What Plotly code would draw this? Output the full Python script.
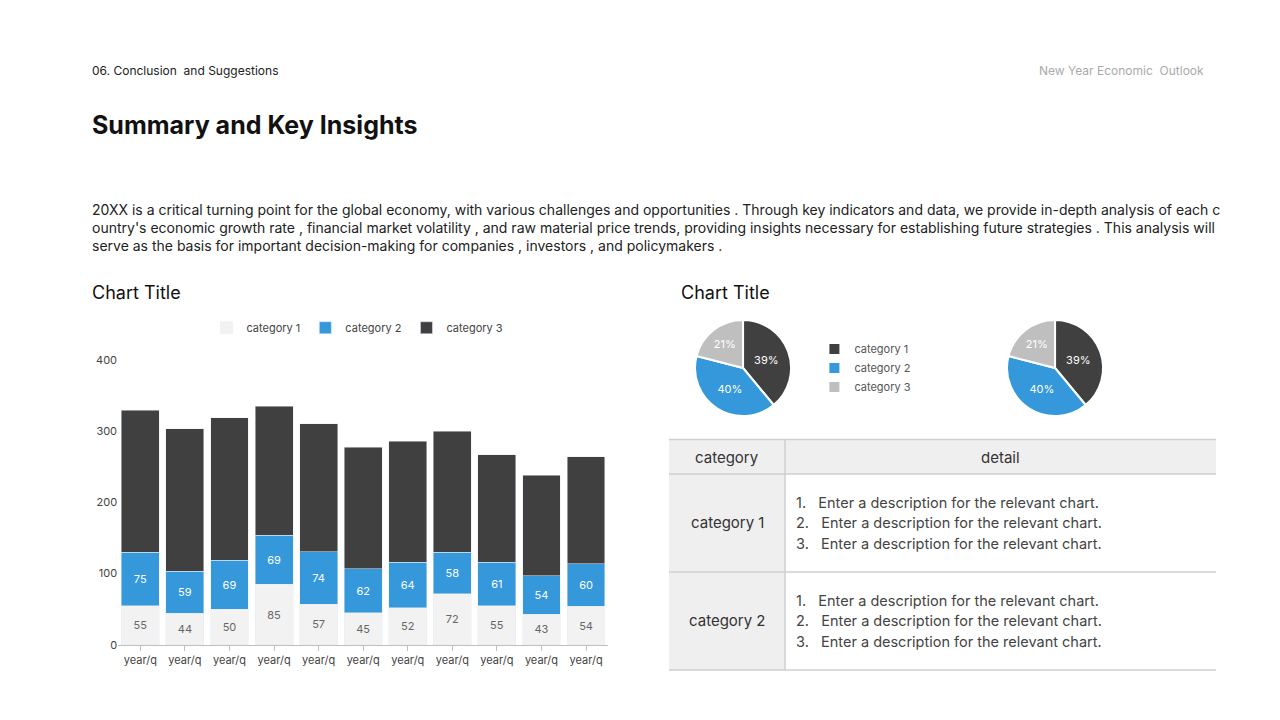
import plotly.graph_objects as go

quarters = ["year/q"] * 11
cat1 = [55, 44, 50, 85, 57, 45, 52, 72, 55, 43, 54]
cat2 = [75, 59, 69, 69, 74, 62, 64, 58, 61, 54, 60]
cat3 = [200, 201, 200, 181, 180, 171, 170, 170, 151, 141, 150]
pie_labels = ["category 1", "category 2", "category 3"]
pie_values = [39, 40, 21]
table_rows = ["category 1", "category 2"]
detail_lines = ["Enter a description for the relevant chart."] * 3

FONT = "Inter, Noto Sans, sans-serif"
C1, C2, C3 = "#f2f2f2", "#3498db", "#404040"
xs = list(range(len(cat1)))

fig = go.Figure()
for name, vals, color, txt in [("category 1", cat1, C1, dict(color="#666", size=11)),
                               ("category 2", cat2, C2, dict(color="white", size=11, family="Inter Bold, " + FONT)),
                               ("category 3", cat3, C3, None)]:
    fig.add_trace(go.Bar(
        x=xs, y=vals, name=name, marker_color=color, legend="legend",
        text=vals if txt else None, textposition="inside" if txt else "none",
        insidetextanchor="middle", textfont=txt, textangle=0,
    ))

for i, dom in enumerate([[0.536, 0.6125], [0.78, 0.856]]):
    fig.add_trace(go.Pie(
        labels=pie_labels, values=pie_values, sort=False, direction="clockwise",
        rotation=0, marker=dict(colors=[C3, C2, "#bfbfbf"], line=dict(color="white", width=2)),
        textinfo="percent", texttemplate="%{percent:.0%}",
        textfont=dict(color="white", size=11, family=FONT),
        domain=dict(x=dom, y=[0.432, 0.568]), legend="legend%d" % (i + 2),
    ))

fig.update_layout(
    width=1280, height=720, margin=dict(l=0, r=0, t=0, b=0),
    paper_bgcolor="white", plot_bgcolor="white", barmode="stack", bargap=0.15,
    font=dict(family=FONT, color="#333"),
    xaxis=dict(domain=[0.086, 0.469], tickmode="array", tickvals=xs, ticktext=quarters,
               showline=True, linecolor="#bfbfbf", ticks="outside", tickcolor="#bfbfbf",
               tickfont=dict(size=11, color="#444"), range=[-0.5, 10.5]),
    yaxis=dict(domain=[0.108, 0.511], range=[0, 400], dtick=100, showgrid=False,
               tickfont=dict(size=11, color="#444"), zeroline=False),
    legend=dict(orientation="h", x=0.273, xanchor="center", y=0.557, yanchor="middle",
                font=dict(size=11, color="#444"), itemwidth=30, traceorder="normal"),
    legend2=dict(x=0.63, y=0.5, yanchor="middle", font=dict(size=11, color="#555"), tracegroupgap=0),
    legend3=dict(x=0.874, y=0.5, yanchor="middle", font=dict(size=11, color="#555"), tracegroupgap=0),
)

def px(x, y):
    return x / 1280, 1 - y / 720

def text(x, y, s, size, color="#222", anchor="left", bold=False):
    fig.add_annotation(x=x / 1280, y=1 - y / 720, xref="paper", yref="paper", text=s,
                       showarrow=False, xanchor=anchor, yanchor="middle", align="left",
                       font=dict(size=size, color=color, family=("Inter SemiBold, " if bold else "") + FONT))

text(82, 57, "06. Conclusion  and Suggestions", 12)
text(1198, 57, "New Year Economic  Outlook", 12, "#aaa", "right")
text(82, 112, "<b>Summary and Key Insights</b>", 25, "#111")
fig.add_annotation(x=82 / 1280, y=1 - 188 / 720, xref="paper", yref="paper", showarrow=False,
                   xanchor="left", yanchor="top", align="left",
                   font=dict(size=14, color="#222", family=FONT),
                   text="20XX is a critical turning point for the global economy, with various challenges and opportunities . Through key indicators and data, we provide in-depth analysis of each c<br>"
                        "ountry's economic growth rate , financial market volatility , and raw material price trends, providing insights necessary for establishing future strategies . This analysis will<br>"
                        "serve as the basis for important decision-making for companies , investors , and policymakers .")
text(82, 283, "Chart Title", 18, "#111")
text(671, 283, "Chart Title", 18, "#111")

# table
L, M, R = 661, 777, 1208
ys = [433, 468, 568, 668]
def rect(x0, y0, x1, y1, fill):
    fig.add_shape(type="rect", xref="paper", yref="paper", x0=x0 / 1280, x1=x1 / 1280,
                  y0=1 - y1 / 720, y1=1 - y0 / 720, fillcolor=fill, line_width=0, layer="below")
rect(L, ys[0], R, ys[1], "#efefef")
rect(L, ys[1], M, ys[3], "#efefef")
for y in ys:
    fig.add_shape(type="line", xref="paper", yref="paper", x0=L / 1280, x1=R / 1280,
                  y0=1 - y / 720, y1=1 - y / 720, line=dict(color="#cfcfcf", width=1.5))
fig.add_shape(type="line", xref="paper", yref="paper", x0=M / 1280, x1=M / 1280,
              y0=1 - ys[3] / 720, y1=1 - ys[0] / 720, line=dict(color="#cfcfcf", width=1.5))
text((L + M) / 2, 451, "category", 15, "#333", "center")
text((M + R) / 2, 451, "detail", 15, "#333", "center")
for r, name in enumerate(table_rows):
    yc = (ys[r + 1] + ys[r + 2]) / 2
    text((L + M) / 2, yc, name, 15, "#333", "center")
    for k, line in enumerate(detail_lines):
        text(786, yc - 21 + 21 * k, "%d.   %s" % (k + 1, line), 14.5, "#444")

fig.write_html("out.html")
